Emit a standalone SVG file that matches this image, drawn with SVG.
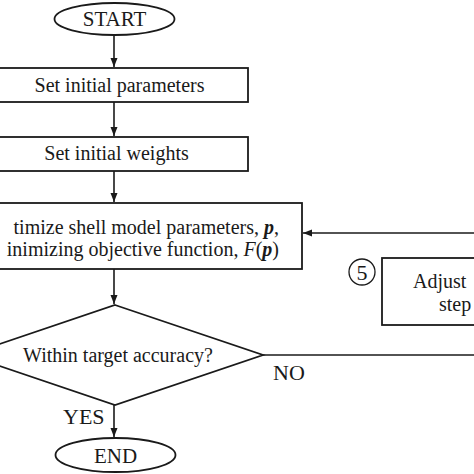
<svg xmlns="http://www.w3.org/2000/svg" width="474" height="474" viewBox="0 0 474 474">
<defs>
<marker id="ah" markerWidth="10" markerHeight="10" refX="9" refY="5" orient="auto" markerUnits="userSpaceOnUse">
<path d="M0,1.5 L9,5 L0,8.5 Z" fill="#1a1a1a"/>
</marker>
<style>
.s{fill:#fff;stroke:#1a1a1a;stroke-width:1.8}
.c{fill:none;stroke:#1a1a1a;stroke-width:1.6}
text{fill:#1a1a1a}
</style>
</defs>
<rect width="474" height="474" fill="#fff"/>
<g font-family="Liberation Serif, Times New Roman, serif" font-size="20">
<g id="connectors">
<line class="c" x1="114" y1="35" x2="114" y2="67" marker-end="url(#ah)"/>
<line class="c" x1="114" y1="102" x2="114" y2="136" marker-end="url(#ah)"/>
<line class="c" x1="114" y1="171" x2="114" y2="202" marker-end="url(#ah)"/>
<line class="c" x1="114" y1="269" x2="114" y2="304" marker-end="url(#ah)"/>
<line class="c" x1="114" y1="405" x2="114" y2="437" marker-end="url(#ah)"/>
<line class="c" x1="263" y1="355" x2="474" y2="355"/>
<line class="c" x1="474" y1="233" x2="303" y2="233" marker-end="url(#ah)"/>
<text x="273" y="380" font-size="22">NO</text>
<text x="63" y="424" font-size="22">YES</text>
</g>
<g id="start">
<ellipse class="s" cx="114.5" cy="19" rx="60" ry="16"/>
<text x="114.5" y="26" text-anchor="middle" font-size="21">START</text>
</g>
<g id="init-params">
<rect class="s" x="-10" y="68" width="258" height="34"/>
<text x="119.5" y="92" text-anchor="middle">Set initial parameters</text>
</g>
<g id="init-weights">
<rect class="s" x="-10" y="137" width="258" height="34"/>
<text x="116.5" y="160" text-anchor="middle">Set initial weights</text>
</g>
<g id="optimize">
<rect class="s" x="-10" y="203" width="312" height="66"/>
<text x="279" y="234" text-anchor="end">timize shell model parameters, <tspan font-weight="bold" font-style="italic">p</tspan>,</text>
<text x="279" y="256" text-anchor="end">inimizing objective function, <tspan font-style="italic">F</tspan>(<tspan font-weight="bold" font-style="italic">p</tspan>)</text>
</g>
<g id="check">
<polygon class="s" points="115,305 263,355 115,405 -33,355"/>
<text x="118" y="362" text-anchor="middle">Within target accuracy?</text>
</g>
<g id="end">
<ellipse class="s" cx="115.5" cy="455" rx="60" ry="17"/>
<text x="115.5" y="463" text-anchor="middle" font-size="21">END</text>
</g>
<g id="adjust">
<circle cx="362" cy="272" r="13" fill="#fff" stroke="#1a1a1a" stroke-width="1.3"/>
<text x="362" y="280" text-anchor="middle" font-size="22">5</text>
<rect class="s" x="382" y="258" width="110" height="67"/>
<text x="413" y="288">Adjust</text>
<text x="439" y="311">step</text>
</g>
</g>
</svg>
